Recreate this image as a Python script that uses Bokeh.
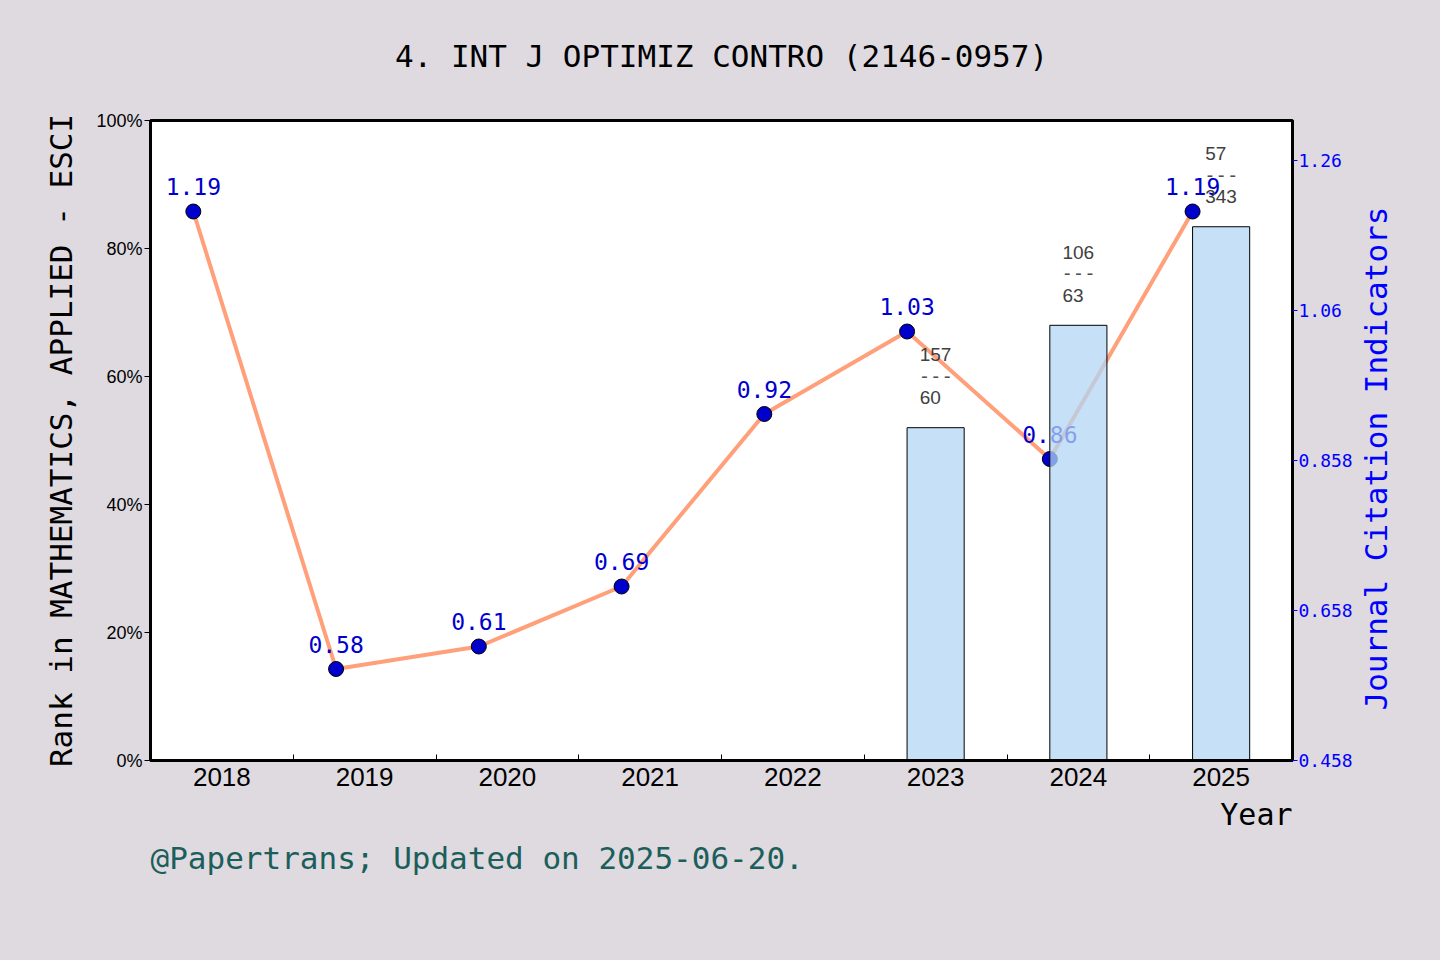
from bokeh.plotting import figure
from bokeh.layouts import row
from bokeh.models import Range1d, LinearAxis, FixedTicker, Title
from bokeh.core.properties import value
from bokeh.embed import file_html
from bokeh.resources import INLINE

# data
years = ["2018", "2019", "2020", "2021", "2022", "2023", "2024", "2025"]
jci = [1.19, 0.58, 0.61, 0.69, 0.92, 1.03, 0.86, 1.19]
jci_labels = ["1.19", "0.58", "0.61", "0.69", "0.92", "1.03", "0.86", "1.19"]

bar_years = ["2023", "2024", "2025"]
rank_pct = [52.0, 68.0, 83.4]
rank_top = ["157", "106", "57"]
rank_bottom = ["60", "63", "343"]

left_ticks = [0, 20, 40, 60, 80, 100]
right_ticks = [0.458, 0.658, 0.858, 1.058, 1.258]
right_tick_labels = ["0.458", "0.658", "0.858", "1.06", "1.26"]

BG = "#dedae0"
MONO = "DejaVu Sans Mono"
SANS = "Liberation Sans"

# category i sits in [i, i+1]; points a bit left of the middle, bars right of them
x_pts = [i + 0.3 for i in range(len(years))]
bar_x = [years.index(y) + 0.5 for y in bar_years]

p = figure(width=1355, height=960, output_backend="svg", toolbar_location=None,
           x_range=Range1d(0, len(years)), y_range=Range1d(0, 100),
           min_border_left=150, min_border_right=63,
           min_border_top=120, min_border_bottom=200)
p.border_fill_color = BG
p.background_fill_color = "white"
p.outline_line_color = "black"
p.outline_line_width = 3
p.xgrid.visible = False
p.ygrid.visible = False

# blank spacer between the frame and the title, to lift the title
p.add_layout(Title(text=" ", text_font_size="31px", standoff=5), "above")
p.title.text = "4. INT J OPTIMIZ CONTRO (2146-0957)"
p.title.align = "center"
p.title.text_font = MONO
p.title.text_font_size = "31px"
p.title.text_font_style = "normal"
p.title.text_color = "black"
p.title.standoff = 10

p.extra_y_ranges = {"jci": Range1d(0.458, 0.458 + 640 * 0.2 / 150)}

# bottom axis: labels at the middle, small inward ticks between years
xa = p.xaxis[0]
xa.ticker = FixedTicker(ticks=[i + 0.5 for i in range(len(years))],
                        minor_ticks=list(range(1, len(years))))
xa.major_label_overrides = {i + 0.5: y for i, y in enumerate(years)}
xa.major_tick_line_color = None
xa.minor_tick_in = 6
xa.minor_tick_out = 0
xa.minor_tick_line_color = "black"
xa.axis_line_color = "black"
xa.axis_line_width = 3
xa.major_label_text_font = SANS
xa.major_label_text_font_size = "26px"
xa.major_label_text_color = "black"
xa.major_label_standoff = 1

ya = p.yaxis[0]
ya.ticker = FixedTicker(ticks=left_ticks)
ya.major_label_overrides = {t: "%d%%" % t for t in left_ticks}
ya.minor_tick_line_color = None
ya.major_tick_in = 0
ya.major_tick_out = 6
ya.axis_line_width = 3
ya.major_label_text_font = SANS
ya.major_label_text_font_size = "18px"
ya.major_label_text_color = "black"
ya.major_label_standoff = 2
ya.axis_label = "Rank in MATHEMATICS, APPLIED - ESCI"
ya.axis_label_text_font = MONO
ya.axis_label_text_font_size = "31px"
ya.axis_label_text_font_style = "normal"
ya.axis_label_text_color = "black"
ya.axis_label_standoff = 14

ra = LinearAxis(y_range_name="jci", ticker=FixedTicker(ticks=right_ticks))
ra.major_label_overrides = dict(zip(right_ticks, right_tick_labels))
ra.minor_tick_line_color = None
ra.major_tick_in = 0
ra.major_tick_out = 5
ra.major_tick_line_color = "blue"
ra.axis_line_color = "black"
ra.axis_line_width = 3
ra.major_label_text_font = MONO
ra.major_label_text_font_size = "18px"
ra.major_label_text_color = "blue"
ra.major_label_standoff = 1
p.add_layout(ra, "right")

# x label and footer under the axis
p.add_layout(Title(text="Year", align="right", text_font=MONO,
                   text_font_size="30px", text_font_style="normal",
                   text_color="black", standoff=12), "below")
p.add_layout(Title(text="@Papertrans; Updated on 2025-06-20.", align="left",
                   text_font=MONO, text_font_size="31px",
                   text_font_style="normal", text_color="#1b5e5a",
                   standoff=0), "below")

# JCI line with points and labels
p.line(x_pts, jci, y_range_name="jci", line_color="#ffa07a", line_width=4)
p.scatter(x_pts, jci, y_range_name="jci", size=15, fill_color="#0000cd",
          line_color="black", line_width=1)
p.text(x_pts, jci, text=jci_labels, y_range_name="jci", y_offset=-25,
       text_align="center", text_baseline="middle", text_color="#0000cd",
       text_font=value(MONO), text_font_size="23px")

# rank bars drawn over the line
p.vbar(x=bar_x, top=rank_pct, bottom=0, width=0.4, fill_color="#b2d6f4",
       fill_alpha=0.75, line_color="black", line_width=1)
p.text(bar_x, rank_pct, text=rank_bottom, x_offset=-16, y_offset=-30,
       text_align="left", text_baseline="middle", text_color="#404040",
       text_font=value(SANS), text_font_size="19px")
p.text(bar_x, rank_pct, text=["---"] * len(bar_x), x_offset=-17, y_offset=-52,
       text_align="left", text_baseline="middle", text_color="#505050",
       text_font=value(MONO), text_font_size="19px")
p.text(bar_x, rank_pct, text=rank_top, x_offset=-16, y_offset=-73,
       text_align="left", text_baseline="middle", text_color="#404040",
       text_font=value(SANS), text_font_size="19px")

# right-hand label, reading bottom to top, as a side strip
side = figure(width=85, height=960, output_backend="svg", toolbar_location=None,
              x_axis_type=None, y_axis_type=None,
              title="Journal Citation Indicators", title_location="left",
              min_border_left=0, min_border_right=0,
              min_border_top=120, min_border_bottom=200)
side.border_fill_color = BG
side.background_fill_color = BG
side.outline_line_color = None
side.xgrid.visible = False
side.ygrid.visible = False
side.title.align = "left"
side.title.offset = 50
side.title.text_font = MONO
side.title.text_font_size = "31px"
side.title.text_font_style = "normal"
side.title.text_color = "blue"
side.title.standoff = 0

layout = row(p, side, spacing=0)
layout.styles = {"background-color": BG}

html = file_html(layout, INLINE)
html = html.replace("<body>", '<body style="background-color:%s;">' % BG, 1)
open("out.html", "w").write(html)
